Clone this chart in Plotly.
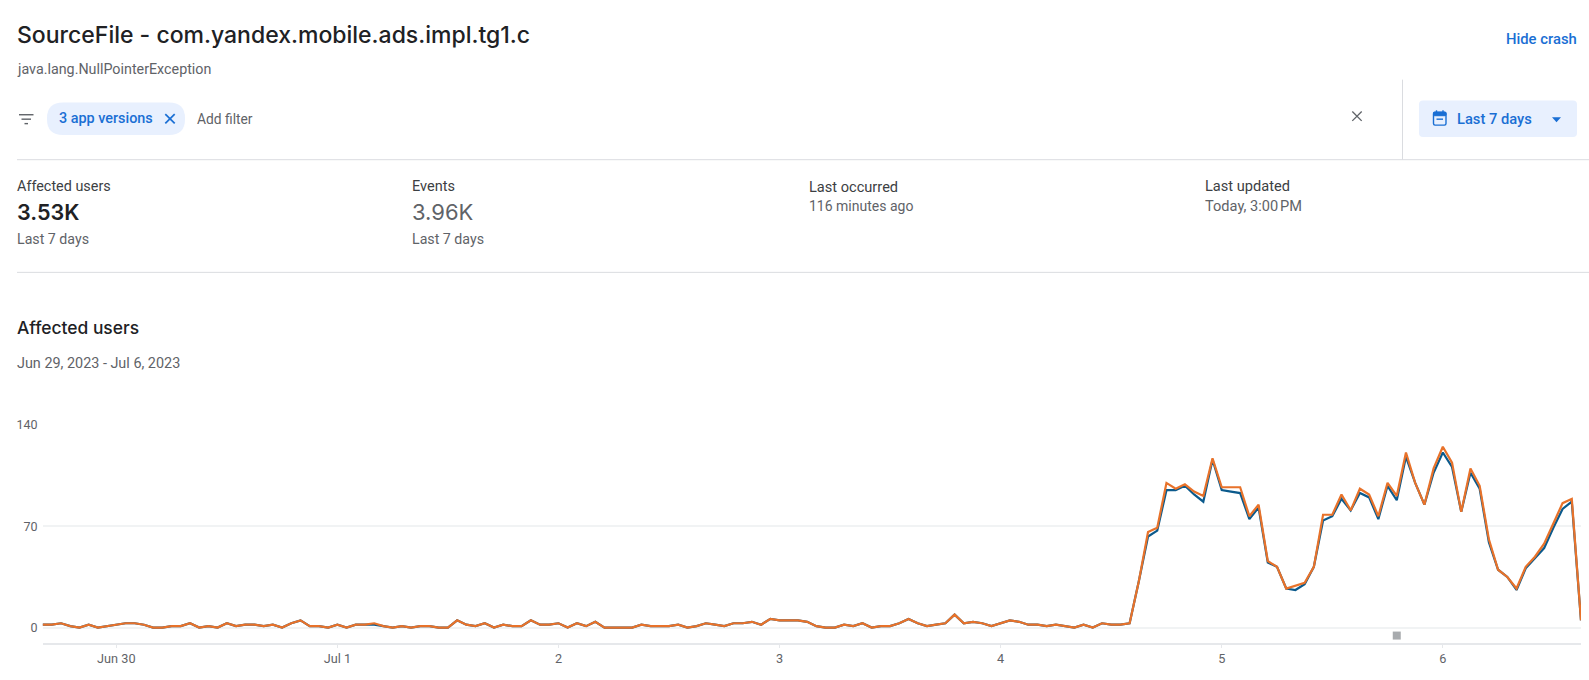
import pandas as pd
import plotly.graph_objects as go

W, H = 1589, 680

hours = pd.date_range("2023-06-29 16:00", periods=168, freq="h")

# dark blue series, sits under the orange one
users_blue = [
    2, 2, 3, 1, 0, 2, 0, 1, 2, 3, 3, 2, 0, 0, 1, 1, 3, 0, 1, 0, 3, 1, 2, 2,
    1, 2, 0, 3, 5, 1, 1, 0, 2, 0, 2, 2, 2, 1, 0, 1, 0, 1, 1, 0, 0, 5, 2, 1,
    3, 0, 2, 1, 1, 5, 2, 2, 3, 0, 3, 1, 4, 0, 0, 0, 0, 2, 1, 1, 1, 2, 0, 1,
    3, 2, 1, 3, 3, 4, 2, 6, 5, 5, 5, 4, 1, 0, 0, 2, 1, 3, 0, 1, 1, 3, 6, 3,
    1, 2, 3, 9, 3, 4, 3, 1, 3, 5, 4, 2, 2, 1, 2, 1, 0, 2, 0, 3, 2, 2, 3, 32,
    63, 67, 95, 95, 98, 92, 87, 116, 95, 94, 93, 75, 83, 45, 42, 27, 26, 30, 42, 74,
    77, 89, 81, 93, 90, 75, 98, 88, 118, 100, 85, 107, 121, 111, 80, 107, 96, 59, 40, 35,
    26, 41, 48, 55, 69, 82, 87, 5,
]
users_orange = [
    2, 2, 3, 1, 0, 2, 0, 1, 2, 3, 3, 2, 0, 0, 1, 1, 3, 0, 1, 0, 3, 1, 2, 2,
    1, 2, 0, 3, 5, 1, 1, 0, 2, 0, 2, 2, 3, 1, 0, 1, 0, 1, 1, 0, 0, 5, 2, 1,
    3, 0, 2, 1, 1, 5, 2, 2, 3, 0, 3, 1, 4, 0, 0, 0, 0, 2, 1, 1, 1, 2, 0, 1,
    3, 2, 1, 3, 3, 4, 2, 6, 5, 5, 5, 4, 1, 0, 0, 2, 1, 3, 0, 1, 1, 3, 6, 3,
    1, 2, 3, 9, 3, 4, 3, 1, 3, 5, 4, 2, 2, 1, 2, 1, 0, 2, 0, 3, 2, 2, 3, 32,
    66, 69, 100, 96, 99, 94, 91, 117, 97, 97, 97, 77, 85, 46, 42, 27, 29, 31, 42, 78,
    78, 92, 81, 96, 92, 77, 100, 91, 121, 100, 85, 110, 125, 114, 80, 110, 98, 61, 40, 35,
    27, 42, 49, 58, 72, 86, 89, 5,
]

tick_dates = ["2023-06-30", "2023-07-01", "2023-07-02", "2023-07-03",
              "2023-07-04", "2023-07-05", "2023-07-06"]
tick_labels = ["Jun 30", "Jul 1", "2", "3", "4", "5", "6"]
y_ticks = [0, 70, 140]

marker_dates = ["2023-07-05 19:00"]
marker_values = [-5.5]

DARK = "#202124"
SOFT = "#3c4043"
GREY = "#5f6368"
LINK = "#1a6fd4"
PALE = "#e8f0fe"
RULE = "#dadce0"
FONT = "Roboto"
HEAD = "Inter"


def px(x):
    return x / W


def py(y):
    return 1 - y / H


def label(x, y, text, size=14.4, color=GREY, weight=400, anchor="left", family=FONT):
    return dict(
        x=px(x), y=py(y), xref="paper", yref="paper", text=text, showarrow=False,
        xanchor=anchor, yanchor="middle", borderpad=0,
        font=dict(size=size, color=color, family=family, weight=weight),
    )


def seg(x0, y0, x1, y1, color, width=1.0):
    return dict(type="line", xref="paper", yref="paper", x0=px(x0), y0=py(y0),
                x1=px(x1), y1=py(y1), line=dict(color=color, width=width))


def cross(x, y, r, color, width=1.6):
    return [seg(x - r, y - r, x + r, y + r, color, width),
            seg(x - r, y + r, x + r, y - r, color, width)]


def rounded(x0, y0, x1, y1, r, fill=None, line=None, width=0):
    a, b, c, d = px(x0), py(y0), px(x1), py(y1)
    rx, ry = r / W, r / H
    path = (f"M {a + rx} {b} L {c - rx} {b} Q {c} {b} {c} {b - ry} "
            f"L {c} {d + ry} Q {c} {d} {c - rx} {d} L {a + rx} {d} "
            f"Q {a} {d} {a} {d + ry} L {a} {b - ry} Q {a} {b} {a + rx} {b} Z")
    return dict(type="path", xref="paper", yref="paper", path=path,
                fillcolor=fill if fill else "rgba(0,0,0,0)",
                line=dict(color=line if line else "rgba(0,0,0,0)", width=width))


fig = go.Figure()
fig.add_trace(go.Scatter(x=hours, y=users_blue, mode="lines",
                         line=dict(color="#0b5a8c", width=2.2), cliponaxis=False))
fig.add_trace(go.Scatter(x=hours, y=users_orange, mode="lines",
                         line=dict(color="#e8722a", width=2.2), cliponaxis=False))
fig.add_trace(go.Scatter(x=marker_dates, y=marker_values, mode="markers",
                         marker=dict(symbol="square", size=8, color="#a8abae")))

shapes = [
    seg(17, 153.5, W, 153.5, RULE),
    seg(1402.5, 72.5, 1402.5, 153.5, RULE),
    seg(17, 267.5, W, 267.5, RULE),
    # filter icon
    seg(19, 108, 33.5, 108, GREY, 1.4),
    seg(21.5, 112.5, 31, 112.5, GREY, 1.4),
    seg(24.5, 117, 28, 117, GREY, 1.4),
    # chip
    rounded(47, 95.5, 185, 128.5, 16, fill=PALE),
    # date button
    rounded(1419, 93.5, 1577, 130.5, 4, fill=PALE),
    # calendar icon
    rounded(1433.5, 105.5, 1446, 118.5, 1.5, line=LINK, width=1.4),
    rounded(1433.5, 105.5, 1446, 109, 1, fill=LINK, line=LINK, width=1),
    seg(1436.5, 103.5, 1436.5, 105.5, LINK, 1.4),
    seg(1443, 103.5, 1443, 105.5, LINK, 1.4),
    seg(1436.5, 112.5, 1443, 112.5, LINK, 1.4),
    # dropdown arrow
    dict(type="path", xref="paper", yref="paper", fillcolor=LINK, line=dict(width=0),
         path=f"M {px(1552)} {py(110.5)} L {px(1561)} {py(110.5)} L {px(1556.5)} {py(115.5)} Z"),
]
shapes += cross(170, 112, 4.7, LINK, 1.7)
shapes += cross(1357, 109.5, 4.7, GREY, 1.3)

labels = [
    label(16, 27.5, "SourceFile - com.yandex.mobile.ads.impl.tg1.c", 23, DARK, 500, family=HEAD),
    label(16, 62, "java.lang.NullPointerException", 14.3),
    label(58, 112, "3 app versions", 14.4, LINK, 500),
    label(196, 112, "Add filter", 13.8),
    label(1577.5, 31, "Hide crash", 14.8, LINK, 500, anchor="right"),
    label(1456, 112, "Last 7 days", 14.7, LINK, 500),
    label(16, 181, "Affected users", 14.4, SOFT),
    label(16, 206, "3.53K", 21.6, DARK, 600, family=HEAD),
    label(16, 233.5, "Last 7 days", 14.2),
    label(411, 181, "Events", 14.5, SOFT),
    label(411, 206, "3.96K", 22, GREY, 400, family=HEAD),
    label(411, 233.5, "Last 7 days", 14.2),
    label(807.7, 181, "Last occurred", 14.6, SOFT),
    label(807.7, 200, "116 minutes ago", 14),
    label(1204, 180.5, "Last updated", 14.6, SOFT),
    label(1204, 200, "Today, 3:00\u202fPM", 14.6),
    label(16, 323, "Affected users", 17.4, DARK, 500, family=HEAD),
    label(16, 360, "Jun 29, 2023 - Jul 6, 2023", 14.4),
]

fig.update_layout(
    width=W, height=H, autosize=False,
    margin=dict(l=0, r=0, t=0, b=0),
    paper_bgcolor="white", plot_bgcolor="white",
    showlegend=False,
    hovermode=False,
    shapes=shapes,
    annotations=labels,
    font=dict(family=FONT, size=12, color=GREY),
    xaxis=dict(
        domain=[px(42.6), px(1581)],
        range=[hours[0], hours[-1]],
        tickmode="array", tickvals=tick_dates, ticktext=tick_labels,
        showgrid=False, zeroline=False,
        showline=True, linecolor="#e6e8eb", linewidth=2,
        ticks="outside", ticklen=3, tickcolor="#e6e8eb", tickwidth=1,
        tickfont=dict(size=12.7, color=GREY, family=FONT),
    ),
    yaxis=dict(
        domain=[py(642.5), py(422)],
        range=[-10.6, 140],
        tickmode="array", tickvals=y_ticks,
        showgrid=True, gridcolor="#f1f3f4", gridwidth=1.5,
        zeroline=False, showline=False,
        ticks="", ticklabelstandoff=4,
        tickfont=dict(size=12.5, color=GREY, family=FONT),
    ),
)

fig.write_html("out.html", config=dict(displayModeBar=False),
               post_script="document.body.style.margin='0';")
